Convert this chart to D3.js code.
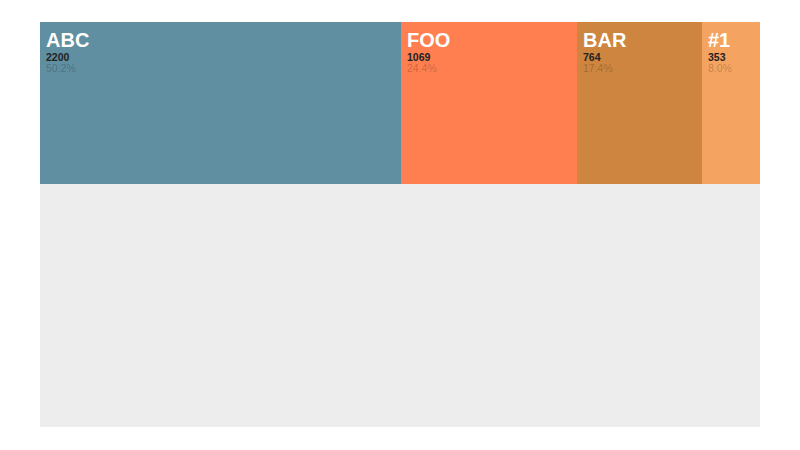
<!DOCTYPE html>
<html>
<head>
<meta charset="utf-8">
<script src="https://cdn.jsdelivr.net/npm/d3@7"></script>
<style>
  body { margin: 0; background: #fff; }
  text { font-family: "Liberation Sans", Arial, sans-serif; }
</style>
</head>
<body>
<div id="chart"></div>
<script>
// data
const categories = ["ABC", "FOO", "BAR", "#1"];
const values = [2200, 1069, 764, 353];
const colors = ["#5F8FA0", "#FF7F50", "#CD853F", "#F4A460"];

const W = 800, H = 450;
const margin = {top: 22, right: 40, bottom: 23, left: 40};
const innerW = W - margin.left - margin.right,
      innerH = H - margin.top - margin.bottom;

const svg = d3.select("#chart").append("svg")
  .attr("width", W).attr("height", H)
  .append("g")
  .attr("transform", "translate(" + margin.left + "," + margin.top + ")");

// grey panel
svg.append("rect")
  .attr("width", innerW).attr("height", innerH)
  .attr("fill", "#EDEDED");

const total = d3.sum(values);
let acc = 0;
const rows = categories.map((c, i) => {
  const r = {name: c, value: values[i], x0: acc, color: colors[i]};
  acc += values[i];
  r.x1 = acc;
  return r;
});

const x = d3.scaleLinear().domain([0, total]).range([0, innerW]).interpolate(d3.interpolateRound);
const bandH = innerH * 0.4;

const cell = svg.selectAll("g.cell")
  .data(rows)
  .enter().append("g")
    .attr("class", "cell")
    .attr("transform", d => "translate(" + x(d.x0) + ",0)");

cell.append("rect")
  .attr("width", d => x(d.x1) - x(d.x0))
  .attr("height", bandH)
  .attr("fill", d => d.color)
  .attr("shape-rendering", "crispEdges");

cell.append("text")
  .attr("x", 6).attr("y", 25)
  .attr("fill", "#fff")
  .attr("font-size", 20)
  .attr("font-weight", "bold")
  .text(d => d.name);

cell.append("text")
  .attr("x", 6).attr("y", 38.5)
  .attr("fill", "#222")
  .attr("font-size", 10.5)
  .attr("font-weight", "bold")
  .text(d => d.value);

cell.append("text")
  .attr("x", 6).attr("y", 50)
  .attr("fill", "rgba(0,0,0,0.22)")
  .attr("font-size", 10.5)
  .text(d => (d.value / total * 100).toFixed(1) + "%");
</script>
</body>
</html>
